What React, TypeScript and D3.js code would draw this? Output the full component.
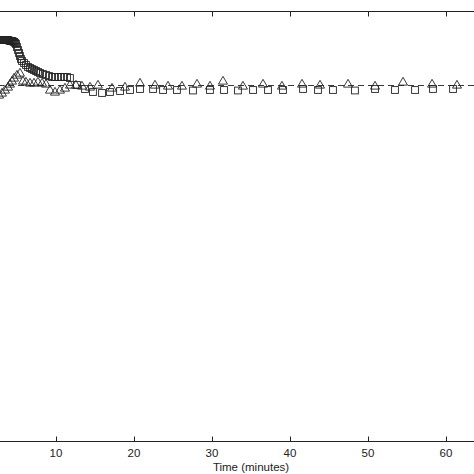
import React from "react";
import * as d3 from "d3";

// Time (minutes) and values for the square-marker series
const squareTimes = [
  2.3, 2.43, 2.56, 2.69, 2.82, 2.95, 3.08, 3.21, 3.34, 3.47, 3.6, 3.73, 3.86, 3.99, 4.12, 4.25,
  4.38, 4.51, 4.64, 4.77, 4.87, 5.0, 5.13, 5.26, 5.38, 5.51, 5.64, 5.9, 6.15, 6.41, 6.67, 6.92,
  7.18, 7.44, 7.69, 7.95, 8.33, 8.72, 9.1, 9.49, 9.87, 10.26, 10.64, 11.03, 11.41, 11.79, 12.69,
  13.72, 14.74, 15.9, 16.92, 18.21, 19.49, 20.77, 22.44, 23.72, 25.51, 27.56, 29.74, 31.54, 33.33,
  35.26, 37.18, 39.1, 41.67, 43.59, 45.51, 48.33, 50.9, 53.46, 56.03, 58.33, 60.9,
];
const squareValues = [
  80.3, 80.3, 80.3, 80.3, 80.3, 80.3, 80.3, 80.3, 80.3, 80.3, 80.3, 80.3, 80.3, 80.2, 80.1, 80.1,
  80.1, 80.0, 79.9, 79.7, 79.5, 78.9, 78.3, 77.7, 77.1, 76.5, 76.1, 75.7, 75.3, 74.9, 74.7, 74.5,
  74.3, 74.1, 73.9, 73.7, 73.5, 73.3, 73.1, 72.9, 72.9, 72.9, 72.9, 72.9, 72.9, 72.7, 71.3,
  70.5, 69.9, 69.7, 69.9, 70.1, 70.3, 70.5, 70.5, 70.3, 70.3, 70.2, 70.3, 70.3, 70.2,
  70.3, 70.3, 70.3, 70.5, 70.3, 70.3, 70.2, 70.5, 70.3, 70.3, 70.5, 70.5,
];

// Time (minutes) and values for the triangle-marker series
const triangleTimes = [
  2.7, 3.08, 3.46, 3.85, 4.1, 4.36, 4.62, 5.0, 5.38, 5.77, 6.15, 6.67, 7.18, 7.69, 8.21, 8.72,
  9.23, 9.87, 10.51, 11.15, 11.79, 12.56, 13.33, 14.36, 15.38, 17.18, 18.85, 20.77, 22.69, 24.36,
  26.15, 28.08, 29.74, 31.41, 33.97, 36.54, 38.97, 41.54, 43.85, 47.44, 50.9, 54.49, 58.21, 61.41,
];
const triangleValues = [
  69.3, 69.7, 70.3, 70.9, 71.5, 72.1, 72.7, 73.3, 73.7, 72.1, 71.9, 71.7, 71.7, 71.9, 71.7, 71.5,
  70.3, 69.9, 70.3, 70.7, 71.3, 71.3, 71.1, 70.9, 71.3, 70.7, 70.9, 71.7, 71.3, 71.1,
  71.1, 71.5, 71.1, 72.1, 71.1, 71.5, 71.1, 71.5, 71.3, 71.5, 71.1, 71.9, 71.5, 71.3,
];

const setpoint = 71.2;
const xTicks = [0, 10, 20, 30, 40, 50, 60, 70];
const xTickLabels = ["", "10", "20", "30", "40", "50", "60", ""];
const xDomain = [0, 70];
const yDomain = [0, 86];
const xLabel = "Time (minutes)";

export default function App() {
  const W = 474;
  const H = 474;
  const x = d3.scaleLinear().domain(xDomain).range([-22, 524]);
  const y = d3.scaleLinear().domain(yDomain).range([441.5, 11.5]);
  const top = y(yDomain[1]);
  const bottom = y(yDomain[0]);
  const left = x(xDomain[0]);
  const right = x(xDomain[1]);
  const ink = "#222";
  const font = "'Liberation Sans', Arial, Helvetica, sans-serif";

  const sq = 6.8;
  const tri = (cx: number, cy: number) => {
    const w = 9;
    const h = 7.8;
    return `M${cx},${cy - h * 0.6}L${cx + w / 2},${cy + h * 0.4}L${cx - w / 2},${cy + h * 0.4}Z`;
  };

  return (
    <div style={{ position: "fixed", left: 0, top: 0, width: W, height: H, background: "#fff" }}>
      <svg width={W} height={H} style={{ display: "block" }}>
        <rect x={0} y={0} width={W} height={H} fill="#fff" />
        <defs>
          <clipPath id="plot">
            <rect x={left} y={top} width={right - left} height={bottom - top} />
          </clipPath>
        </defs>
        {/* axes box */}
        <line x1={left} x2={right} y1={top} y2={top} stroke={ink} strokeWidth={1} />
        <line x1={left} x2={right} y1={bottom} y2={bottom} stroke={ink} strokeWidth={1} />
        {xTicks.map((t, i) => (
          <g key={t}>
            <line x1={Math.round(x(t)) + 0.5} x2={Math.round(x(t)) + 0.5} y1={bottom} y2={bottom - 5} stroke={ink} />
            <line x1={Math.round(x(t)) + 0.5} x2={Math.round(x(t)) + 0.5} y1={top} y2={top + 5} stroke={ink} />
            {xTickLabels[i] ? (
              <text x={x(t)} y={457} textAnchor="middle" fontFamily={font} fontSize={11.5} fill={ink}>
                {xTickLabels[i]}
              </text>
            ) : null}
          </g>
        ))}
        <text x={(left + right) / 2} y={471} textAnchor="middle" fontFamily={font} fontSize={11.5} fill={ink}>
          {xLabel}
        </text>
        <g clipPath="url(#plot)">
          <line
            x1={x(xDomain[0])}
            x2={x(xDomain[1])}
            y1={y(setpoint)}
            y2={y(setpoint)}
            stroke={ink}
            strokeWidth={0.9}
            strokeDasharray="6,4"
          />
          {squareTimes.map((t, i) => (
            <rect
              key={"s" + i}
              x={x(t) - sq / 2}
              y={y(squareValues[i]) - sq / 2}
              width={sq}
              height={sq}
              fill="none"
              stroke={ink}
              strokeWidth={0.9}
            />
          ))}
          {triangleTimes.map((t, i) => (
            <path key={"t" + i} d={tri(x(t), y(triangleValues[i]))} fill="none" stroke={ink} strokeWidth={0.9} />
          ))}
        </g>
      </svg>
    </div>
  );
}
